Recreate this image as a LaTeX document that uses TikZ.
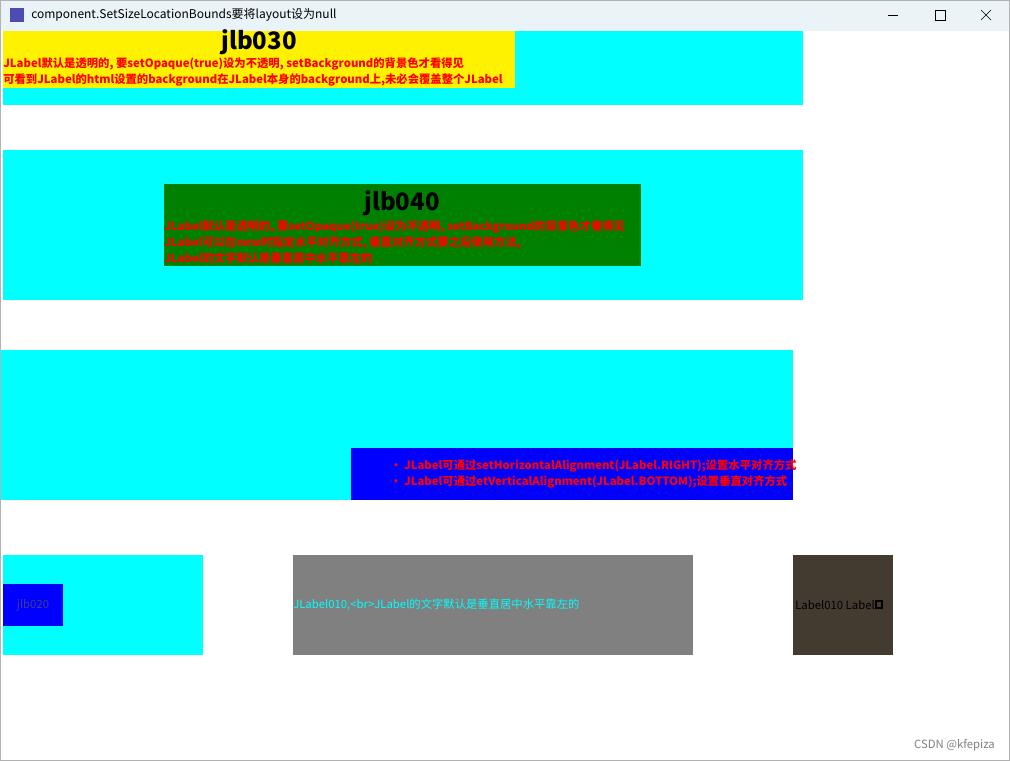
\documentclass[tikz,border=0pt]{standalone}
\usepackage{fontspec}
\setmainfont{Noto Sans CJK SC}
\definecolor{cy}{RGB}{0,255,255}
\definecolor{gr}{RGB}{0,128,0}
\definecolor{bl}{RGB}{0,0,255}
\definecolor{gy}{RGB}{128,128,128}
\definecolor{br}{RGB}{67,58,48}
\definecolor{tb}{RGB}{234,243,248}
\definecolor{rd}{RGB}{255,0,0}
\tikzset{x=0.75pt,y=-0.75pt,
 rtxt/.style={anchor=north west,inner sep=0pt,text=rd,font=\fontsize{8.5}{12}\selectfont\bfseries,align=left},
 ttl/.style={inner sep=0pt,font=\fontsize{18}{20}\selectfont\bfseries}}
\begin{document}
\begin{tikzpicture}
\useasboundingbox (0,0) rectangle (1010,761);
\fill[white] (0,0) rectangle (1010,761);
\fill[tb] (0,0) rectangle (1010,31);
\draw[gray!60] (0.5,0.5) rectangle (1009.5,760.5);
\node[anchor=west,inner sep=0pt,font=\fontsize{9}{10}\selectfont] (title) at (31,15) {component.SetSizeLocationBounds要将layout设为null};
\draw (888,15) -- (898,15);
\draw (935,10) rectangle (945,20);
\draw (981,10) -- (991,20) (991,10) -- (981,20);
\fill[gray!60!blue] (10,8) rectangle (24,22);
% row 1
\fill[cy] (3,31) rectangle (803,105);
\fill[yellow] (3,31) rectangle (515,88);
\node[ttl] (t30) at (259,42) {jlb030};
\node[rtxt] (a30) at (3,57) {JLabel默认是透明的, 要setOpaque(true)设为不透明, setBackground的背景色才看得见\\可看到JLabel的html设置的background在JLabel本身的background上,未必会覆盖整个JLabel};
% row 2
\fill[cy] (3,150) rectangle (803,300);
\fill[gr] (164,184) rectangle (641,266);
\node[ttl] (t40) at (402,203) {jlb040};
\node[rtxt] (a40) at (164,220) {JLabel默认是透明的, 要setOpaque(true)设为不透明, setBackground的背景色才看得见\\JLabel可以在new时指定水平对齐方式, 垂直对齐方式要之后使用方法,\\JLabel的文字默认是垂直居中水平靠左的};
% row 3
\fill[cy] (1,350) rectangle (793,500);
\fill[bl] (351,448) rectangle (793,500);
\node[rtxt] (a50) at (390,459) {•\ JLabel可通过setHorizontalAlignment(JLabel.RIGHT);设置水平对齐方式\\•\ JLabel可通过etVerticalAlignment(JLabel.BOTTOM);设置垂直对齐方式};
% row 4
\fill[cy] (3,555) rectangle (203,655);
\fill[bl] (3,584) rectangle (63,626);
\node[font=\fontsize{8.5}{10}\selectfont,text=gray!60!blue!80!black,inner sep=0pt] (j20) at (33,605) {jlb020};
\fill[gy] (293,555) rectangle (693,655);
\node[anchor=west,inner sep=0pt,text=cy,font=\fontsize{8.5}{10}\selectfont] (j10) at (293,605) {JLabel010,<br>JLabel的文字默认是垂直居中水平靠左的};
\fill[br] (793,555) rectangle (893,655);
\node[anchor=west,inner sep=0pt,font=\fontsize{8.5}{10}\selectfont] (l10) at (795,605) {Label010 Label};
\draw[line width=1pt] (l10.east) ++(1,-4) rectangle ++(6,7);
\node[anchor=east,inner sep=0pt,text=gray,font=\fontsize{8.5}{10}\selectfont] (wm) at (995,745) {CSDN @kfepiza};
\end{tikzpicture}
\end{document}
